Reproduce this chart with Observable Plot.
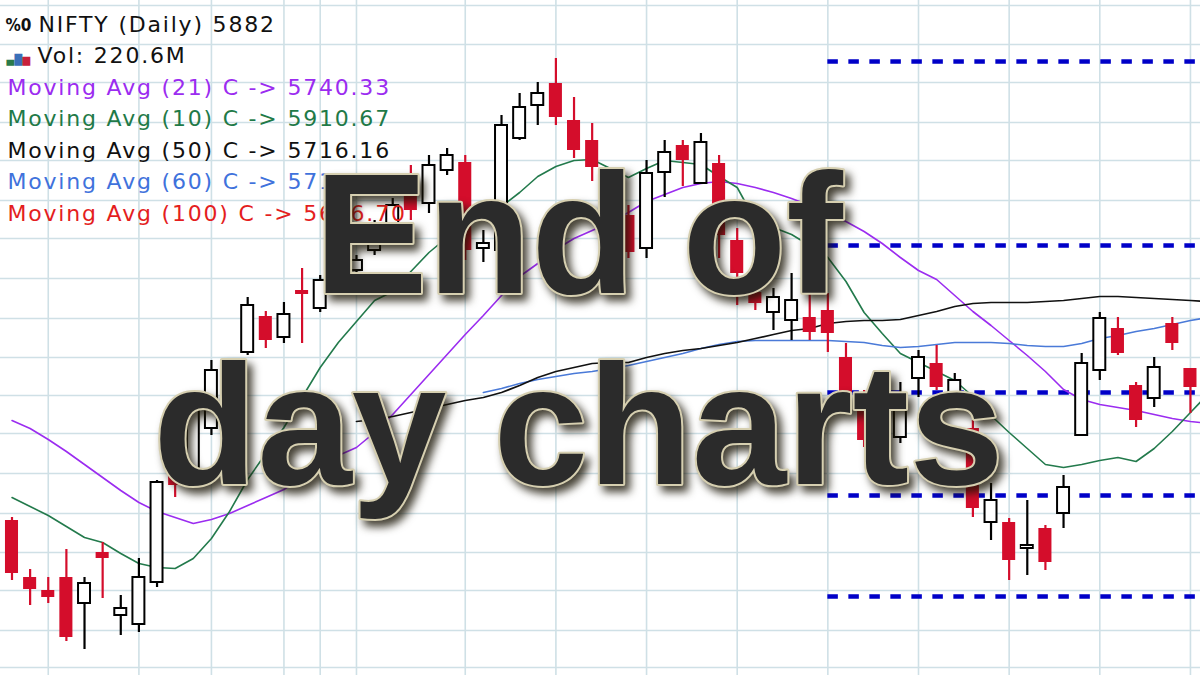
<!DOCTYPE html>
<html>
<head>
<meta charset="utf-8">
<script src="https://cdn.jsdelivr.net/npm/d3@7"></script>
<script src="https://cdn.jsdelivr.net/npm/@observablehq/plot@0.6"></script>
<style>
  html, body { margin: 0; padding: 0; background: #fff; overflow: hidden; }
  #chart { width: 1200px; height: 675px; }
</style>
</head>
<body>
<div id="chart"></div>
<script>
// ---- Daily OHLC (trading day index 0..65) ----
const opens  = [5680,5623,5610,5623,5597,5648,5585,5576,5618,5745,
                5722,5772,5836,5848,5884,5863,5910,5892,5938,5930,
                5950,5965,6025,5997,6030,6038,5952,5950,6062,6095,
                6117,6080,6060,6015,5985,5952,6028,6055,6017,6037,
                5960,5908,5888,5880,5883,5890,5843,5802,5760,5763,
                5822,5837,5808,5772,5678,5678,5652,5672,5687,5765,
                5830,5872,5815,5802,5877,5832];
const highs  = [5683,5631,5623,5651,5623,5658,5605,5642,5720,5753,
                5800,5840,5840,5903,5889,5898,5932,5925,5950,5945,
                5980,6002,6035,6045,6052,6045,5970,6085,6107,6118,
                6142,6103,6077,6025,5995,6040,6060,6060,6067,6045,
                5972,5917,5912,5927,5907,5907,5857,5810,5788,5818,
                5850,5855,5827,5780,5717,5682,5700,5675,5725,5847,
                5888,5883,5818,5843,5883,5832];
const lows   = [5620,5595,5597,5559,5551,5602,5565,5568,5613,5703,
                5715,5765,5810,5845,5852,5857,5857,5888,5905,5920,
                5945,5960,5980,5987,6025,5940,5938,5945,6060,6075,
                6075,6042,6019,5955,5942,5942,6003,6014,6017,5942,
                5895,5890,5870,5860,5860,5848,5800,5753,5750,5757,
                5803,5810,5803,5683,5660,5620,5625,5630,5672,5765,
                5820,5845,5773,5793,5850,5787];
const closes = [5627,5611,5603,5563,5617,5642,5592,5623,5718,5715,
                5790,5830,5820,5895,5860,5886,5906,5920,5912,5940,
                5972,5995,5990,6035,6045,5950,5957,6075,6093,6107,
                6083,6050,6033,5965,5948,6027,6048,6040,6058,5965,
                5927,5897,5903,5900,5868,5867,5805,5760,5775,5805,
                5843,5813,5820,5692,5700,5640,5655,5638,5713,5837,
                5882,5847,5780,5833,5857,5813];

// ---- Moving averages (index 0..66) ----
const ma21 = [5780,5772,5761,5749,5736,5723,5710,5698,5689,5683,
              5677,5681,5687,5695,5703,5711,5723,5734,5745,5753,
              5768,5786,5806,5826,5846,5866,5885,5905,5924,5937,
              5951,5962,5970,5978,5988,5999,6006,6013,6017,6019,
              6017,6013,6008,6002,5995,5987,5979,5969,5957,5943,
              5930,5921,5905,5889,5875,5860,5845,5829,5811,5801,
              5796,5793,5790,5786,5782,5779,5777];
const ma10 = [5703,5694,5685,5674,5663,5658,5647,5637,5633,5632,
              5642,5662,5689,5721,5747,5773,5803,5833,5858,5879,
              5900,5909,5929,5948,5963,5978,5986,5994,6008,6024,
              6034,6040,6041,6032,6023,6032,6040,6038,6036,6024,
              6013,5980,5973,5966,5955,5943,5919,5888,5867,5847,
              5838,5829,5820,5804,5785,5768,5752,5736,5733,5736,
              5740,5743,5739,5752,5769,5788,5807];
const ma50Start = 19;
const ma50 = [5779,5781,5784,5788,5792,5796,5800,5803,5808,5815,
              5823,5829,5833,5837,5838,5838,5843,5847,5850,5852,
              5855,5858,5862,5866,5870,5872,5877,5879,5880,5880,
              5881,5885,5889,5894,5897,5898,5898,5898,5899,5900,
              5902,5904,5904,5903,5902,5901,5900,5899];
const ma60Start = 26;
const ma60 = [5808,5812,5817,5821,5824,5827,5829,5832,5835,5839,
              5843,5847,5852,5856,5859,5860,5860,5860,5860,5860,
              5859,5858,5855,5853,5854,5856,5858,5858,5858,5857,
              5855,5854,5854,5857,5862,5865,5869,5872,5876,5880,5883];

// ---- Support / resistance levels (drawn from day 45 onward) ----
const levels = [6139, 5955, 5808, 5705, 5604];
const levelStart = 45, levelEnd = 66;

// ---- Grid ----
const gridPrices = [6195,6156,6118,6078,6040,6000,5962,5922,5882,5843,5805,5767,5727,5687,5648,5610,5570,5533];
const gridDays = [2,7,11,15,17,19,25,30,35,40,45,50,55,60,65];

// ---- Legend / title texts ----
const legendLabels = ["NIFTY (Daily) 5882", "Vol: 220.6M",
  "Moving Avg (21) C -> 5740.33", "Moving Avg (10) C -> 5910.67",
  "Moving Avg (50) C -> 5716.16", "Moving Avg (60) C -> 5710.90",
  "Moving Avg (100) C -> 5616.70"];
const volIconBars = ["▄", "█", "▆"];
const titleLines = ["End of", "day charts"];

// ---- styles ----
const RED = "#d40d2b";
const legendColors = ["#111111", "#111111", "#9b2cf0", "#1f7a48", "#111111", "#3f72dc", "#e41e1e"];
const legendX = [38, 37, 7, 7, 7, 7, 7];
const volIconColors = ["#2a7a4a", "#3a6fb8", "#c8203a"];

const candles = opens.map((o, i) => ({
  i, open: o, high: highs[i], low: lows[i], close: closes[i], up: closes[i] >= o
}));
const toSeries = (arr, start) => arr.map((v, k) => ({i: k + start, v}));
const hw = 0.36;

const marks = [
  Plot.ruleY(gridPrices, {stroke: "#cfe0e6", strokeWidth: 1.6}),
  Plot.ruleX(gridDays, {stroke: "#cfe0e6", strokeWidth: 1.6}),
  Plot.ruleY(levels, {x1: () => levelStart, x2: () => levelEnd, stroke: "#0000c8",
    strokeWidth: 4.5, strokeDasharray: "10.5,10.5", clip: true}),
  Plot.line(toSeries(ma21, 0), {x: "i", y: "v", stroke: "#9b2cf0", strokeWidth: 1.6, clip: true}),
  Plot.line(toSeries(ma10, 0), {x: "i", y: "v", stroke: "#237a4c", strokeWidth: 1.6, clip: true}),
  Plot.line(toSeries(ma60, ma60Start), {x: "i", y: "v", stroke: "#4a7ad8", strokeWidth: 1.6, clip: true}),
  Plot.line(toSeries(ma50, ma50Start), {x: "i", y: "v", stroke: "#111", strokeWidth: 1.7, clip: true}),
  Plot.ruleX(candles, {x: "i", y1: "low", y2: "high", stroke: d => d.up ? "#000" : RED, strokeWidth: 2.2}),
  Plot.rect(candles, {filter: d => !d.up, x1: d => d.i - hw, x2: d => d.i + hw,
    y1: "open", y2: "close", fill: RED}),
  Plot.rect(candles, {filter: d => d.up, x1: d => d.i - hw + 0.03, x2: d => d.i + hw - 0.03,
    y1: "open", y2: "close", fill: "#fff", stroke: "#000", strokeWidth: 2}),
  // NIFTY icon
  Plot.text(["%0"], {text: d => d, frameAnchor: "top-left", dx: 5, dy: 30, textAnchor: "start",
    lineAnchor: "bottom", fill: "#111", fontSize: 17, fontWeight: "bold", fontFamily: "DejaVu Sans Condensed, DejaVu Sans"}),
  // Vol icon
  ...volIconBars.map((b, k) => Plot.text([b], {text: d => d, frameAnchor: "top-left", dx: 6 + 8 * k, dy: 62,
    textAnchor: "start", lineAnchor: "bottom", fill: volIconColors[k], fontSize: 10, fontFamily: "DejaVu Sans"})),
  ...legendLabels.map((t, k) => Plot.text([t], {
    text: d => d, frameAnchor: "top-left", dx: legendX[k], dy: 31 + 31.5 * k,
    textAnchor: "start", lineAnchor: "bottom", fill: legendColors[k],
    fontSize: 22, fontFamily: "DejaVu Sans"
  })),
  ...titleLines.map((t, k) => Plot.text([t], {
    text: d => d, frameAnchor: "top-left", dx: 578, dy: [292, 483][k],
    textAnchor: "middle", lineAnchor: "bottom", fill: "#2b2b2b",
    stroke: "#d6cfb0", strokeWidth: 4, paintOrder: "stroke", strokeLinejoin: "round",
    fontSize: 170, fontWeight: "bold", fontFamily: "Liberation Sans, Arial, sans-serif"
  }))
];

const chart = Plot.plot({
  width: 1200, height: 675, margin: 0,
  x: {type: "linear", domain: [-0.634, 65.554], axis: null},
  y: {type: "linear", domain: [5525, 6200], axis: null},
  style: {background: "#fff", overflow: "hidden"},
  marks
});
const svg = d3.select(chart);
svg.selectAll("text").each(function() {
  const s = this.textContent;
  if (legendLabels.includes(s)) d3.select(this).attr("letter-spacing", "1.8px");
  if (titleLines.includes(s)) d3.select(this).style("filter", "drop-shadow(5px 6px 4px rgba(25,20,5,0.8))");
});
document.getElementById("chart").appendChild(chart);
</script>
</body>
</html>
